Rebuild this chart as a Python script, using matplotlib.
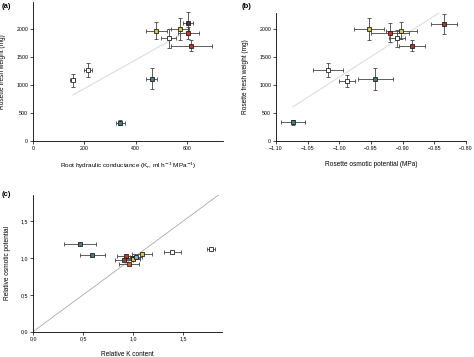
import matplotlib.pyplot as plt
import numpy as np

# ---------- data (a) ----------
kr = [155, 213, 340, 462, 480, 528, 572, 605, 605, 617]
kr_err = [10, 15, 18, 20, 40, 30, 35, 20, 40, 80]
fw_a = [1080, 1270, 330, 1110, 1970, 1830, 2000, 2100, 1930, 1700]
fw_a_err = [110, 120, 40, 190, 150, 170, 200, 200, 110, 100]
col_a = ["white", "white", "teal", "teal", "yellow", "white", "yellow", "purple", "red", "red"]
fit_a_x = [155, 600]
fit_a_y = [820, 1960]

# ---------- data (b) ----------
psi = [-1.073, -1.018, -0.988, -0.943, -0.953, -0.920, -0.909, -0.902, -0.885, -0.835]
psi_err = [0.019, 0.024, 0.012, 0.028, 0.024, 0.030, 0.012, 0.025, 0.021, 0.020]
fw_b = [334, 1268, 1071, 1107, 2000, 1934, 1833, 1970, 1702, 2095]
fw_b_err = [40, 120, 110, 190, 200, 170, 150, 150, 100, 180]
col_b = ["teal", "white", "white", "teal", "yellow", "red", "white", "yellow", "brown", "brown"]
fit_b_x = [-1.073, -0.842]
fit_b_y = [612, 2291]

# ---------- data (c) ----------
relk = [0.467, 0.59, 0.933, 0.907, 0.96, 1.0, 1.0, 1.087, 1.39, 1.78, 1.03]
relk_err = [0.16, 0.125, 0.09, 0.09, 0.1, 0.07, 0.07, 0.1, 0.085, 0.04, 0.06]
relpsi = [1.186, 1.04, 1.023, 0.977, 0.916, 1.0, 0.99, 1.056, 1.084, 1.12, 1.01]
col_c = ["teal", "teal", "red", "red", "orange", "purple", "yellow", "yellow", "white", "white", "blue"]

colors = {"white": "white", "teal": "#3e7f80", "yellow": "#d9c63a", "red": "#cc2f2a",
          "purple": "#5a2a3c", "brown": "#9c3a35", "orange": "#d2602e", "blue": "#8aa6c8"}

plt.rcParams["font.family"] = "Liberation Sans"
fig = plt.figure(figsize=(4.74, 3.57), dpi=100)

def style(ax):
    ax.spines["top"].set_visible(False)
    ax.spines["right"].set_visible(False)
    for s in ["left", "bottom"]:
        ax.spines[s].set_linewidth(0.6)
    ax.tick_params(labelsize=3.8, width=0.5, length=2, pad=1.5)

def pts(ax, x, y, xe, ye, cols):
    for i in range(len(x)):
        ax.errorbar(x[i], y[i], xerr=xe[i], yerr=None if ye is None else ye[i],
                    fmt="s", ms=3.2, mfc=colors[cols[i]], mec="#222222", mew=0.6,
                    ecolor="#444444", elinewidth=0.6, capsize=1.2, capthick=0.5, zorder=3)

# (a)
ax1 = fig.add_axes([33/474, 1-141/357, 190/474, 139/357])
style(ax1)
ax1.plot(fit_a_x, fit_a_y, color="#dddddd", lw=0.8, zorder=1)
pts(ax1, kr, fw_a, kr_err, fw_a_err, col_a)
ax1.set_xlim(0, 740)
ax1.set_ylim(0, 2480)
ax1.set_xticks([0, 200, 400, 600])
ax1.set_yticks([0, 500, 1000, 1500, 2000])
ax1.set_xlabel(r"Root hydraulic conductance (K$_r$, ml h$^{-1}$ MPa$^{-1}$)", fontsize=4.6, labelpad=7)
ax1.set_ylabel("Rosette fresh weight (mg)", fontsize=4.7, labelpad=7)
fig.text(2/474, 1-6/357, "(a)", fontsize=5.5, fontweight="bold", va="center")

# (b)
ax2 = fig.add_axes([276/474, 1-141/357, 190/474, 128.3/357])
style(ax2)
ax2.plot(fit_b_x, fit_b_y, color="#dddddd", lw=0.8, zorder=1)
pts(ax2, psi, fw_b, psi_err, fw_b_err, col_b)
ax2.set_xlim(-1.10, -0.80)
ax2.set_ylim(0, 2290)
ax2.set_xticks([-1.10, -1.05, -1.00, -0.95, -0.90, -0.85, -0.80])
ax2.set_xticklabels(["\u22121.10", "\u22121.05", "\u22121.00", "\u22120.95", "\u22120.90", "\u22120.85", "\u22120.80"])
ax2.set_yticks([0, 500, 1000, 1500, 2000])
ax2.set_xlabel("Rosette osmotic potential (MPa)", fontsize=4.7, labelpad=7)
ax2.set_ylabel("Rosette fresh weight (mg)", fontsize=4.7, labelpad=7)
fig.text(242/474, 1-6/357, "(b)", fontsize=5.5, fontweight="bold", va="center")

# (c)
ax3 = fig.add_axes([33/474, 1-331.7/357, 189/474, 137/357])
style(ax3)
ax3.plot([0, 1.89], [0, 1.89], color="#aaaaaa", lw=0.6, zorder=1)
pts(ax3, relk, relpsi, relk_err, None, col_c)
ax3.set_xlim(0, 1.89)
ax3.set_ylim(0, 1.86)
ax3.set_xticks([0, 0.5, 1.0, 1.5])
ax3.set_xticklabels(["0,0", "0,5", "1,0", "1,5"])
ax3.set_yticks([0, 0.5, 1.0, 1.5])
ax3.set_yticklabels(["0,0", "0,5", "1,0", "1,5"])
ax3.set_xlabel("Relative K content", fontsize=4.7, labelpad=7)
ax3.set_ylabel("Relative osmotic potential", fontsize=4.7, labelpad=7)
fig.text(2/474, 1-195/357, "(c)", fontsize=5.5, fontweight="bold", va="center")

fig.savefig("out.png", dpi=100)
